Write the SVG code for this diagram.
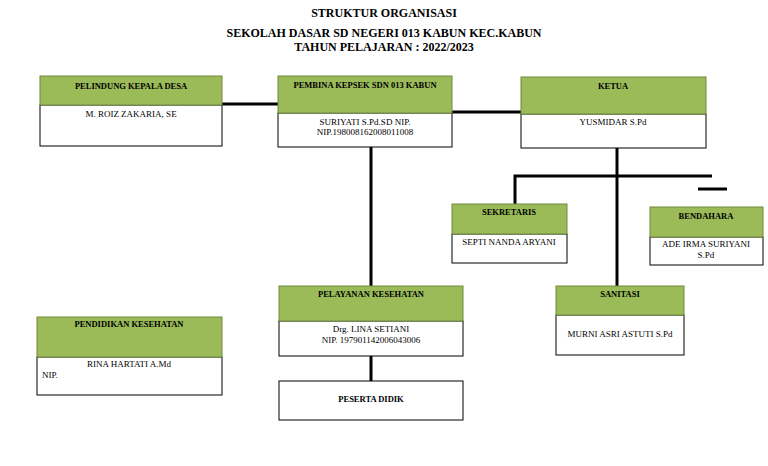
<svg xmlns="http://www.w3.org/2000/svg" width="768" height="466" viewBox="0 0 768 466">
<style>
text{font-family:"Liberation Serif","Times New Roman",serif;fill:#000}
.t{font-size:12px;font-weight:bold;text-anchor:middle}
.h{font-size:8.5px;font-weight:bold;text-anchor:middle}
.v{font-size:9px;text-anchor:middle}
.g{fill:#9bbb59;stroke:#71893f;stroke-width:1}
.w{fill:#fff;stroke:#000;stroke-width:1}
.c{stroke:#000;stroke-width:3;fill:none}
</style>
<rect width="768" height="466" fill="#fff"/>
<text class="t" x="384" y="17">STRUKTUR ORGANISASI</text>
<text class="t" x="384" y="37">SEKOLAH DASAR SD NEGERI 013 KABUN KEC.KABUN</text>
<text class="t" x="384" y="51">TAHUN PELAJARAN : 2022/2023</text>
<g id="connectors">
<line class="c" x1="222" y1="104" x2="278" y2="104"/>
<line class="c" x1="452" y1="112" x2="521" y2="112"/>
<line class="c" x1="371" y1="147" x2="371" y2="286"/>
<line class="c" x1="617" y1="148" x2="617" y2="286"/>
<polyline class="c" points="515,205 515,176 712,176"/>
<line class="c" x1="698" y1="189" x2="727" y2="189"/>
<line class="c" x1="371" y1="356" x2="371" y2="381"/>
</g>
<g id="pelindung">
<rect class="w" x="40" y="105" width="182" height="41"/>
<rect class="g" x="40" y="76" width="182" height="29"/>
<text class="h" x="131" y="89">PELINDUNG KEPALA DESA</text>
<text class="v" x="131" y="117">M. ROIZ ZAKARIA, SE</text>
</g>
<g id="pembina">
<rect class="w" x="278" y="113" width="174" height="34"/>
<rect class="g" x="278" y="76" width="174" height="37"/>
<text class="h" x="365" y="88">PEMBINA KEPSEK SDN 013 KABUN</text>
<text class="v" x="365" y="125">SURIYATI S.Pd.SD NIP.</text>
<text class="v" x="365" y="135">NIP.198008162008011008</text>
</g>
<g id="ketua">
<rect class="w" x="521" y="114" width="185" height="34"/>
<rect class="g" x="521" y="77" width="185" height="37"/>
<text class="h" x="613" y="89">KETUA</text>
<text class="v" x="613" y="125">YUSMIDAR S.Pd</text>
</g>
<g id="sekretaris">
<rect class="w" x="452" y="234" width="115" height="29"/>
<rect class="g" x="452" y="204" width="115" height="30"/>
<text class="h" x="509" y="215">SEKRETARIS</text>
<text class="v" x="509" y="245">SEPTI NANDA ARYANI</text>
</g>
<g id="bendahara">
<rect class="w" x="650" y="237" width="113" height="28"/>
<rect class="g" x="650" y="207" width="113" height="30"/>
<text class="h" x="706" y="219">BENDAHARA</text>
<text class="v" x="706" y="247">ADE IRMA SURIYANI</text>
<text class="v" x="706" y="258">S.Pd</text>
</g>
<g id="sanitasi">
<rect class="w" x="556" y="315" width="128" height="40"/>
<rect class="g" x="556" y="286" width="128" height="29"/>
<text class="h" x="620" y="297">SANITASI</text>
<text class="v" x="620" y="337">MURNI ASRI ASTUTI S.Pd</text>
</g>
<g id="pelayanan">
<rect class="w" x="279" y="321" width="184" height="35"/>
<rect class="g" x="279" y="286" width="184" height="35"/>
<text class="h" x="371" y="297">PELAYANAN KESEHATAN</text>
<text class="v" x="371" y="332">Drg. LINA SETIANI</text>
<text class="v" x="371" y="343">NIP. 197901142006043006</text>
</g>
<g id="peserta">
<rect class="w" x="279" y="381" width="184" height="39"/>
<text class="h" x="371" y="402">PESERTA DIDIK</text>
</g>
<g id="pendidikan">
<rect class="w" x="37" y="357" width="185" height="38"/>
<rect class="g" x="37" y="317" width="185" height="40"/>
<text class="h" x="129" y="327">PENDIDIKAN KESEHATAN</text>
<text class="v" x="129" y="367">RINA HARTATI A.Md</text>
<text class="v" x="42" y="378" style="text-anchor:start">NIP.</text>
</g>
</svg>
